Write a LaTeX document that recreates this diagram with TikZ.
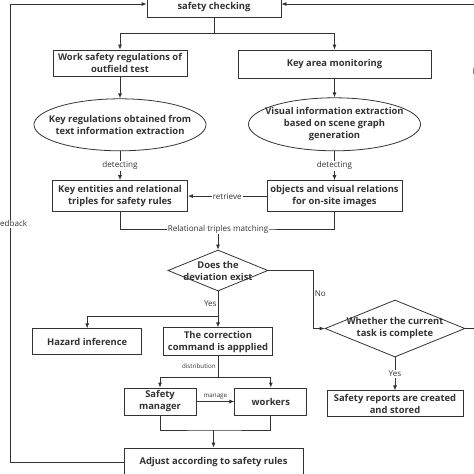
\documentclass[tikz,border=0pt]{standalone}
\usepackage{fontspec}
\setmainfont{Open Sans}
\usetikzlibrary{arrows.meta,positioning,shapes.geometric}

\begin{document}
\begin{tikzpicture}[
    x=1pt, y=-1pt,
    font=\fontsize{9.4}{12}\selectfont\bfseries,
    color=black!80,
    >={Latex[length=5pt,width=4pt]},
    line width=0.8pt,
    box/.style={draw, fill=white, inner sep=1pt, align=center},
    oval/.style={draw, ellipse, inner sep=-11pt, align=center},
    decision/.style={draw, diamond, inner sep=-8pt, align=center},
    tag/.style={font=\fontsize{8.1}{9}\selectfont, fill=white, inner sep=1pt},
    tiny/.style={font=\fontsize{6.2}{7}\selectfont, inner sep=2pt}
]
\useasboundingbox (0,0) rectangle (474,474);

\node[box, minimum width=134pt, minimum height=20pt] (check) at (214,7) {safety checking};
\coordinate (split) at (214,33);

\node[box, minimum width=134pt, minimum height=26pt] (regs) at (120,63) {Work safety regulations of\\outfield test};
\node[box, minimum width=193pt, minimum height=28pt] (area) at (334.5,64) {Key area monitoring};
\draw (check) -- (split);
\draw[->] (split) -| (regs);
\draw[->] (split) -| (area);

% the two extraction branches
\node[oval, minimum width=172pt, minimum height=52pt, below=22pt of regs] (textext) {Key regulations obtained from\\text information extraction};
\node[oval, minimum width=172pt, minimum height=53pt, below=19pt of area] (visext) {Visual information extraction\\based on scene graph\\generation};
\draw[->] (regs) -- (textext);
\draw[->] (area) -- (visext);

\node[box, minimum width=135pt, minimum height=31pt, below=29pt of textext] (rules) {Key entities and relational\\triples for safety rules};
\node[box, minimum width=135pt, minimum height=31pt, below=29pt of visext] (objs) {objects and visual relations\\for on-site images};
\draw[->] (textext) -- node[tag] {detecting} (rules);
\draw[->] (visext) -- node[tag] {detecting} (objs);
\draw[->] (objs) -- node[tag] {retrieve} (rules);

\coordinate (match) at (218,229);
\draw (rules.south) |- (match) -| (objs.south);
\node[tag] (matchlbl) at (match) {Relational triples matching};

% deviation check
\node[decision, aspect=2.44, minimum width=100pt, minimum height=41pt] (dev) at (218,270.5) {Does the\\deviation exist};
\draw[->] (matchlbl) -- (dev);

\coordinate (yes) at (218,316);
\draw (dev) -- node[tag, fill=none, left] {Yes} (yes);
\node[box, minimum width=109pt, minimum height=28pt, below=36pt of dev] (fix) {The correction\\command is appplied};
\node[box, minimum width=109pt, minimum height=26pt, left=21pt of fix] (hazard) {Hazard inference};
\draw[->] (yes) -| (hazard);
\draw[->] (yes) -- (fix);

\node[decision, aspect=2.46, minimum width=140pt, minimum height=57pt] (done) at (395,328.5) {Whether the current\\task is complete};
\draw[->] (dev.east) -- ++(45,0) |- node[tag, fill=none, right, pos=0.2] {No} (done.west);
\node[box, minimum width=136pt, minimum height=26pt, below=33pt of done] (report) {Safety reports are created\\and stored};
\draw[->] (done) -- node[tag] {Yes} (report);

% distribution of the command
\coordinate (dist) at (218,377);
\draw (fix) -- node[tiny, left] {distribution} (dist);
\node[box, minimum width=72pt, minimum height=27pt] (manager) at (160,401.5) {Safety\\manager};
\node[box, minimum width=72pt, minimum height=27pt, right=38pt of manager] (workers) {workers};
\draw[->] (dist) -| (manager);
\draw[->] (dist) -| (workers);
\draw[->] (manager) -- node[tiny, above] {manage} (workers);

\node[box, minimum width=179pt, minimum height=28pt] (adjust) at (213.5,462) {Adjust according to safety rules};
\coordinate (merge) at (213.5,430);
\draw (manager) |- (merge) -| (workers);
\draw[->] (merge) -- (adjust);

% loops back to the top
\coordinate (fbtop) at (10,4);
\draw[->] (adjust.west) -| node[tag, pos=0.76] {feedback} (fbtop) -- (fbtop -| check.west);
\coordinate (rtop) at (485,4);
\draw[->] (done.east) -| node[tag, fill=none, left, pos=0.895] {No} (rtop) -- (rtop -| check.east);
\end{tikzpicture}
\end{document}
